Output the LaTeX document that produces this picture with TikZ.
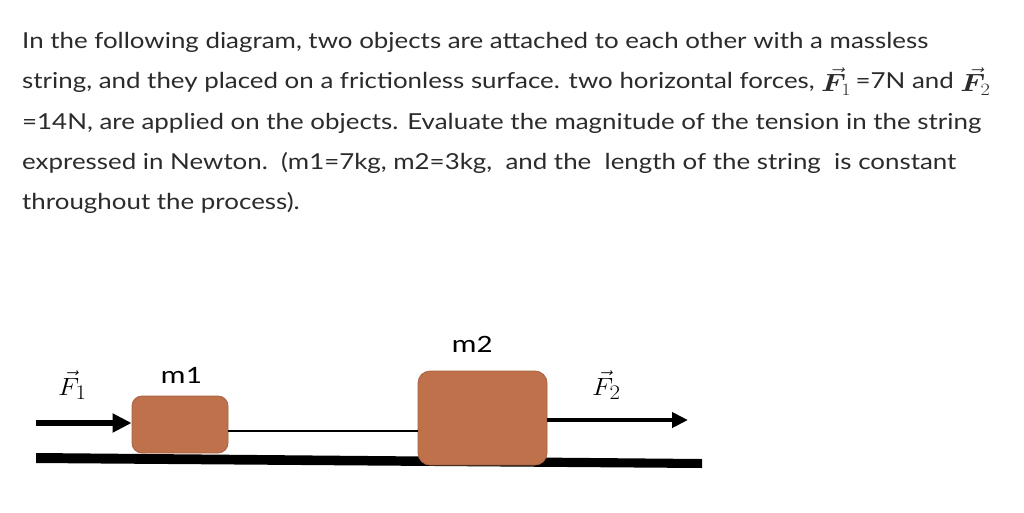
\documentclass[tikz,border=0pt]{standalone}
\usepackage{bm}
\usepackage{fontspec}
\setmainfont{Lato}
\newfontfamily\calib{Carlito}
\usetikzlibrary{arrows.meta}
\definecolor{txt}{HTML}{2B2B2B}
\definecolor{boxfill}{HTML}{BE714B}
\definecolor{boxline}{HTML}{A86240}
\newcommand{\qwide}[1]{\scalebox{1.177}[1]{#1}}
\newcommand{\tvec}[1]{\raisebox{-3pt}{\fontsize{24}{28}\selectfont$\vec{\bm F}_{#1}$}}
\newcommand{\dvec}[1]{\scalebox{1.1}[1]{$\vec{F}_{\scalebox{1.2}{$\scriptstyle #1$}}$}}
\tikzset{
  qline/.style={anchor=base west, inner sep=0pt, text=txt, font=\fontsize{22}{26}\selectfont},
  block/.style={draw=boxline, line width=0.8pt, fill=boxfill, rounded corners=10pt, inner sep=0pt},
  forcea/.style={line width=6pt, -{Triangle[length=19pt,width=18pt]}},
  forceb/.style={line width=4pt, -{Triangle[length=16pt,width=15pt]}},
  stringline/.style={line width=2pt},
  masslabel/.style={anchor=base, inner sep=0pt, font=\calib\fontsize{25}{28}\selectfont},
  veclabel/.style={anchor=base west, inner sep=0pt, font=\fontsize{24}{28}\selectfont},
}
\begin{document}
\begin{tikzpicture}[x=1pt,y=-1pt]
\useasboundingbox (0,0) rectangle (1024,512);
\fill[white] (0,0) rectangle (1024,512);
% question text
\node[qline] (l1) at (22,48) {\qwide{In the following diagram, two objects are attached to each other with a massless}};
\node[qline] (l2) at (22,88.5) {\qwide{string, and they placed on a frictionless surface. two horizontal forces, \tvec{1}\,=7N and \tvec{2}}};
\node[qline] (l3) at (22,129) {\qwide{=14N, are applied on the objects. Evaluate the magnitude of the tension in the string}};
\node[qline] (l4) at (22,169) {\qwide{expressed in Newton.\ \ (m1=7kg, m2=3kg,\ \ and the\ \ length of the string\ \ is constant}};
\node[qline] (l5) at (22,209) {\qwide{throughout the process).}};
% ground
\fill[black] (36,453) -- (702,459) -- (702,468) -- (36,463) -- cycle;
% blocks
\node[block, minimum width=96pt, minimum height=57pt] (m1box) at (180,424.5) {};
\node[block, minimum width=129pt, minimum height=94pt, rounded corners=12pt] (m2box) at (482.5,418) {};
% string
\draw[stringline] ([yshift=-6.5pt]m1box.east) -- ([yshift=-6.5pt]m1box.east -| m2box.west);
% forces
\coordinate (f1start) at (36,423);
\draw[forcea] (f1start) -- (m1box.west |- f1start);
\coordinate (f2end) at (688,420);
\draw[forceb] (m2box.east |- f2end) -- (f2end);
% labels
\node[veclabel] (f1lab) at (58,395) {\dvec{1}};
\node[veclabel] (f2lab) at (592,395) {\dvec{2}};
\node[masslabel] (m1lab) at (181,383) {\scalebox{1.25}[1]{m1}};
\node[masslabel] (m2lab) at (472,352) {\scalebox{1.25}[1]{m2}};
\end{tikzpicture}
\end{document}
